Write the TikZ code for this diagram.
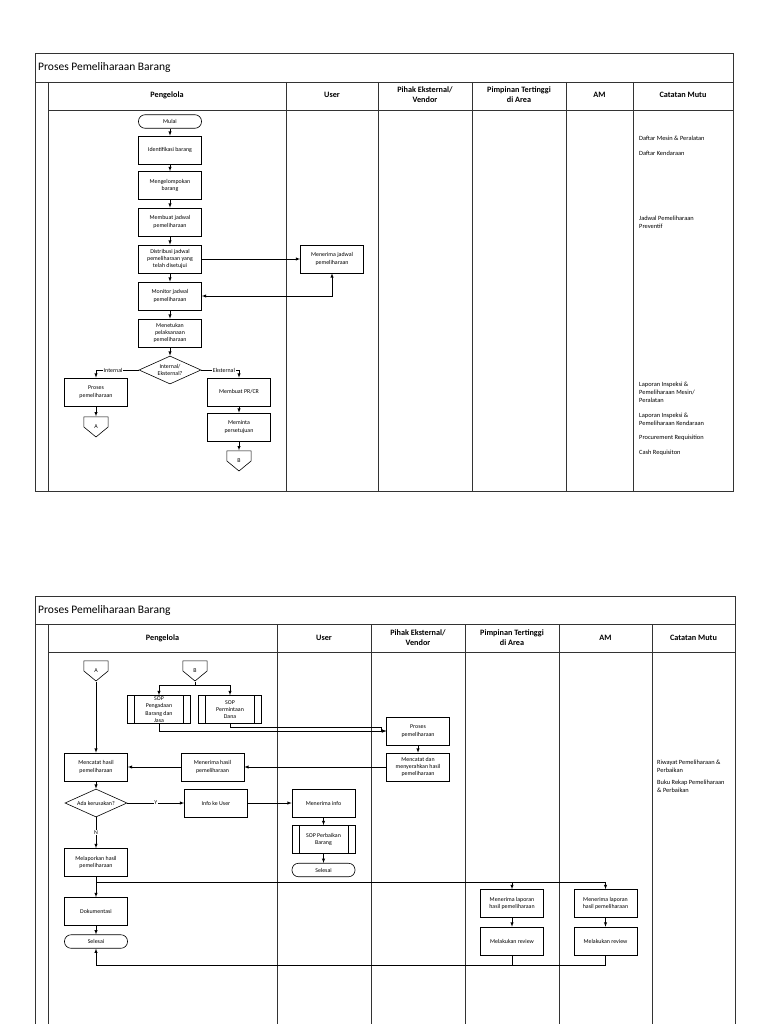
\documentclass[tikz,border=0pt]{standalone}
\usepackage{fontspec}
\setmainfont{Carlito}
\usepackage{tikz}
\usetikzlibrary{arrows,shapes}
\usetikzlibrary{calc}
\tikzstyle{procbox}=[rectangle,draw,line width=0.6pt,minimum width=63pt,minimum height=28pt,inner sep=1pt,align=center,font=\fontsize{5.9}{7.2}\selectfont]
\tikzstyle{termbox}=[procbox,rounded corners=6.5pt,minimum height=13.5pt]
\tikzstyle{decision}=[diamond,draw,line width=0.6pt,aspect=2.2,minimum width=62pt,minimum height=28pt,inner sep=0pt,align=center,font=\fontsize{5.9}{7.2}\selectfont]
\tikzstyle{predef}=[procbox,path picture={
   \draw[line width=0.6pt] ([xshift=7pt]path picture bounding box.north west) -- ([xshift=7pt]path picture bounding box.south west);
   \draw[line width=0.6pt] ([xshift=-7pt]path picture bounding box.north east) -- ([xshift=-7pt]path picture bounding box.south east);}]
\tikzstyle{offpage}=[rectangle,minimum width=25pt,minimum height=21pt,inner sep=0pt,font=\fontsize{5.9}{7.2}\selectfont,path picture={
   \draw[line width=0.6pt] ([shift={(0.4pt,-0.4pt)}]path picture bounding box.north west) -- ([shift={(-0.4pt,-0.4pt)}]path picture bounding box.north east) -- ([xshift=-0.4pt]path picture bounding box.east) -- ([yshift=0.5pt]path picture bounding box.south) -- ([xshift=0.4pt]path picture bounding box.west) -- cycle;}]
\tikzstyle{link} = [draw,line width=0.5pt]
\tikzstyle{edge} = [link,->,>=latex]
\tikzstyle{weight} = [font=\fontsize{5.9}{7.2}\selectfont,fill=white,inner sep=0.8pt]
\tikzstyle{lane} = [draw=black!80,line width=0.8pt]
\tikzstyle{lanehead} = [align=center,font=\bfseries\fontsize{8.2}{10}\selectfont]
\tikzset{note/.style={anchor=north west,align=left,inner sep=0pt,font=\fontsize{6.4}{8}\selectfont}}

\begin{document}
\begin{tikzpicture}[x=1pt,y=-1pt]

  \useasboundingbox (0,0) rectangle (768,1024);

  \draw[lane] (35,53) rectangle (733,491);
  \draw[lane] (35,82) -- (733,82);
  \draw[lane] (48,110) -- (733,110);
  \foreach \cx in {48,286,378,472,566,633}
      \draw[lane] (\cx,82) -- (\cx,491);

  \draw[lane] (35,1024) -- (35,596) -- (735,596) -- (735,1024);
  \draw[lane] (35,624) -- (735,624);
  \draw[lane] (48,652) -- (735,652);
  \foreach \cx in {48,277,371,465,559,652}
      \draw[lane] (\cx,624) -- (\cx,1024);

  \foreach \y/\name in {67/titleA, 610/titleB}
      \node[anchor=west,inner sep=0pt,font=\fontsize{11.5}{14}\selectfont] (\name) at (38,\y) {Proses Pemeliharaan Barang};

  \foreach \x/\name/\label in {167/hPengelolaA/Pengelola, 332/hUserA/User, 425/hVendorA/{Pihak Eksternal/\\Vendor}, 519/hPimpinanA/{Pimpinan Tertinggi\\di Area}, 599.5/hAMA/AM, 683/hMutuA/{Catatan Mutu}}
      \node[lanehead] (\name) at (\x,95) {\label};

  \foreach \x/\name/\label in {162.5/hPengelolaB/Pengelola, 324/hUserB/User, 418/hVendorB/{Pihak Eksternal/\\Vendor}, 512/hPimpinanB/{Pimpinan Tertinggi\\di Area}, 605.5/hAMB/AM, 693.5/hMutuB/{Catatan Mutu}}
      \node[lanehead] (\name) at (\x,638) {\label};

  \node[termbox] (mulai) at (170,121.5) {Mulai};
  \foreach \y/\name/\label in {150/ident/{Identifikasi barang}, 185.5/kelompok/{Mengelompokan\\barang}, 222/jadwal/{Membuat jadwal\\pemeliharaan}, 259/distribusi/{Distribusi jadwal\\pemeliharaan yang\\telah disetujui}, 296/monitor/{Monitor jadwal\\pemeliharaan}, 333/tentukan/{Menetukan\\pelaksanaan\\pemeliharaan}}
      \node[procbox] (\name) at (170,\y) {\label};
  \node[decision] (jenis) at (170,370) {Internal/\\Eksternal?};

  \foreach \x/\y/\name/\label in {96/392/prosesA/{Proses\\pemeliharaan}, 239/392/prcr/{Membuat PR/CR}, 239/427/setuju/{Meminta\\persetujuan}, 332/259/terima/{Menerima jadwal\\pemeliharaan}}
      \node[procbox] (\name) at (\x,\y) {\label};
  \node[offpage] (offA) at (96,427) {A};
  \node[offpage] (offB) at (239,461) {B};

  \foreach \source/\dest in {mulai/ident, ident/kelompok, kelompok/jadwal, jadwal/distribusi, distribusi/monitor, monitor/tentukan, tentukan/jenis, prosesA/offA, prcr/setuju, setuju/offB, distribusi/terima}
      \path[edge] (\source) -- (\dest);
  \path[edge,<->] (monitor.east) -| (terima.south);
  \path[edge] (jenis.west) -| node[weight,pos=0.3] {Internal} (prosesA.north);
  \path[edge] (jenis.east) -| node[weight,pos=0.3] {Eksternal} (prcr.north);

  \foreach \x/\y/\name/\label in {639/136/mutuA1/{Daftar Mesin \& Peralatan}, 639/151/mutuA2/{Daftar Kendaraan}, 639/216/mutuA3/{Jadwal Pemeliharaan\\Preventif}, 639/382/mutuA4/{Laporan Inspeksi \&\\Pemeliharaan Mesin/\\Peralatan}, 639/413/mutuA5/{Laporan Inspeksi \&\\Pemeliharaan Kendaraan}, 639/435/mutuA6/{Procurement Requisition}, 639/450/mutuA7/{Cash Requisiton}}
      \node[note] (\name) at (\x,\y) {\label};

  \node[offpage] (offA2) at (96,671) {A};
  \node[offpage] (offB2) at (195,671) {B};
  \foreach \x/\name/\label in {159/sopbarang/{SOP\\Pengadaan\\Barang dan\\Jasa}, 230/sopdana/{SOP\\Permintaan\\Dana}}
      \node[predef] (\name) at (\x,709.5) {\label};

  \foreach \x/\y/\name/\label in {418/731/prosesV/{Proses\\pemeliharaan}, 418/767/serah/{Mencatat dan\\menyerahkan hasil\\pemeliharaan}, 96/767/catat/{Mencatat hasil\\pemeliharaan}, 212.5/767/terimahasil/{Menerima hasil\\pemeliharaan}, 216/803/info/{Info ke User}, 323.5/803/terimainfo/{Menerima info}, 96/862.5/lapor/{Melaporkan hasil\\pemeliharaan}, 96/911.5/dokumen/Dokumentasi, 512/903.5/lapPim/{Menerima laporan\\hasil pemeliharaan}, 512/941/revPim/{Melakukan review}, 605.5/903.5/lapAM/{Menerima laporan\\hasil pemeliharaan}, 605.5/941/revAM/{Melakukan review}}
      \node[procbox] (\name) at (\x,\y) {\label};
  \node[decision] (rusak) at (96,803) {Ada kerusakan?};
  \node[predef] (sopbaik) at (323.5,839.5) {SOP Perbaikan\\Barang};
  \node[termbox] (selesaiU) at (323.5,870) {Selesai};
  \node[termbox] (selesaiP) at (96,941.5) {Selesai};

  \coordinate (pisahB) at (195,685);
  \coordinate (pisahL) at (96,882);
  \coordinate (balik) at (96,965);

  \path[link] (offB2) -- (pisahB);
  \path[edge] (pisahB) -| (sopbarang.north);
  \path[edge] (pisahB) -| (sopdana.north);
  \path[edge] (sopbarang.south) |- (prosesV.west);
  \path[edge] (sopdana.south) |- ([shift={(-5pt,4pt)}]prosesV.west) |- (prosesV.west);

  \foreach \source/\dest in {offA2/catat, prosesV/serah, serah/terimahasil, terimahasil/catat, catat/rusak, info/terimainfo, terimainfo/sopbaik, sopbaik/selesaiU, pisahL/dokumen, dokumen/selesaiP, lapPim/revPim, lapAM/revAM, balik/selesaiP}
      \path[edge] (\source) -- (\dest);
  \path[edge] (rusak) -- node[weight] {Y} (info);
  \path[edge] (rusak) -- node[weight] {N} (lapor);
  \path[link] (lapor) -- (pisahL);
  \path[edge] (pisahL) -| (lapPim.north);
  \path[edge] (pisahL) -| (lapAM.north);
  \path[link] (revPim.south) |- (balik);
  \path[link] (revAM.south) |- (balik);

  \foreach \x/\y/\name/\label in {657/760/mutuB1/{Riwayat Pemeliharaan \&\\Perbaikan}, 657/780/mutuB2/{Buku Rekap Pemeliharaan\\\& Perbaikan}}
      \node[note] (\name) at (\x,\y) {\label};

\end{tikzpicture}
\end{document}
